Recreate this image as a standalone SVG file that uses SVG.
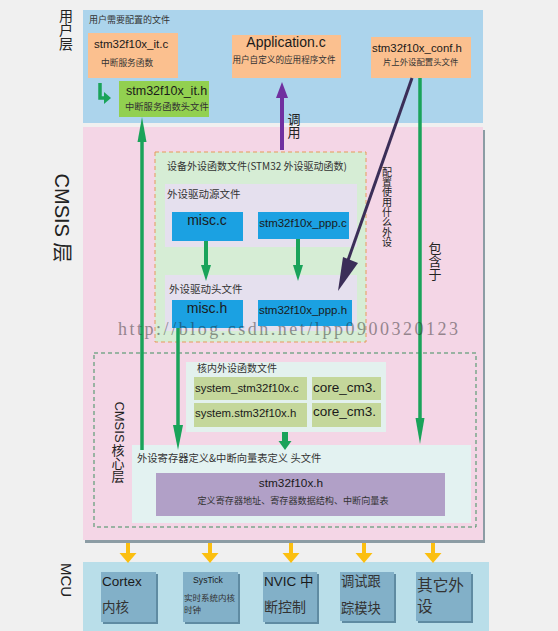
<svg xmlns="http://www.w3.org/2000/svg" width="558" height="631" viewBox="0 0 558 631">
<style>
text{font-family:"Liberation Sans","Noto Sans CJK SC",sans-serif;fill:#222}
.cn{font-family:"Noto Sans CJK SC","Liberation Sans",sans-serif;fill:#333}
.lat{font-family:"Liberation Sans","Noto Sans CJK SC",sans-serif;fill:#1a1a1a}
.vt{font-family:"Noto Sans CJK SC","Liberation Sans",sans-serif;fill:#222;writing-mode:vertical-rl;text-orientation:upright}
.peach{fill:#fbc08f}
.blue{fill:#1ba1e2}
.olive{fill:#c4d79b}
.lav{fill:#e5e0ee}
.mcub{fill:#82b0c8}
.mcus{fill:#5f8ba2}
.g{stroke:#1aa35a;fill:none}
.gf{fill:#1aa35a}
.y{stroke:#fbbf10;stroke-width:4;fill:none}
.yf{fill:#fbbf10}
</style>
<rect width="558" height="631" fill="#f0f0f0"/>

<g id="user-layer">
<rect x="83" y="10" width="400" height="113" fill="#acd4ec"/>
<text class="vt" x="66" y="9" font-size="14">用户层</text>
<text class="cn" x="89" y="23" font-size="9">用户需要配置的文件</text>
</g>

<g id="it-c">
<rect class="peach" x="88" y="33" width="90" height="45"/>
<text class="lat" x="94" y="48" font-size="11.5">stm32f10x_it.c</text>
<text class="cn" x="101" y="66" font-size="8.7">中断服务函数</text>
</g>

<g id="application-c">
<rect class="peach" x="232" y="35" width="109" height="43"/>
<text class="lat" x="286" y="47" font-size="14" text-anchor="middle">Application.c</text>
<text class="cn" x="284" y="63" font-size="8.6" text-anchor="middle">用户自定义的应用程序文件</text>
</g>

<g id="conf-h">
<rect class="peach" x="371" y="37" width="100" height="41"/>
<text class="lat" x="372" y="52" font-size="11.4">stm32f10x_conf.h</text>
<text class="cn" x="383" y="65" font-size="8.4">片上外设配置头文件</text>
</g>

<g id="it-h">
<rect x="119" y="81" width="90" height="36" fill="#92d050"/>
<text class="lat" x="126" y="95" font-size="12.5">stm32f10x_it.h</text>
<text class="cn" x="125" y="110" font-size="9.3">中断服务函数头文件</text>
</g>

<g id="cmsis-layer">
<rect x="85" y="130" width="400" height="413" fill="#8c9ca4"/>
<rect x="83" y="127" width="400" height="413" fill="#f4d6e6"/>
<text x="60" y="218" font-size="20" text-anchor="middle" transform="rotate(90 60 218)" dominant-baseline="middle">CMSIS 层</text>
</g>

<g id="device-files">
<rect x="155" y="152" width="211" height="190" fill="#d6edd5" stroke="#e69a5a" stroke-width="1" stroke-dasharray="4 3"/>
<text class="cn" x="167" y="170" font-size="10">设备外设函数文件(STM32 外设驱动函数)</text>
</g>

<g id="driver-src">
<rect class="lav" x="165" y="184" width="192" height="63"/>
<text class="cn" x="167" y="198" font-size="10.5">外设驱动源文件</text>
</g>

<g id="misc-c">
<rect class="blue" x="172" y="212" width="71" height="29"/>
<text class="lat" x="207" y="225" font-size="14" text-anchor="middle">misc.c</text>
</g>

<g id="ppp-c">
<rect class="blue" x="258" y="212" width="91" height="27"/>
<text class="lat" x="303" y="227" font-size="11.5" text-anchor="middle">stm32f10x_ppp.c</text>
</g>

<g id="driver-hdr">
<rect class="lav" x="165" y="275" width="192" height="56"/>
<text class="cn" x="169" y="293" font-size="10.5">外设驱动头文件</text>
</g>

<g id="misc-h">
<rect class="blue" x="172" y="300" width="71" height="28"/>
<text class="lat" x="207" y="313" font-size="14" text-anchor="middle">misc.h</text>
</g>

<g id="ppp-h">
<rect class="blue" x="258" y="300" width="94" height="26"/>
<text class="lat" x="303" y="314" font-size="11.5" text-anchor="middle">stm32f10x_ppp.h</text>
</g>

<g id="cmsis-core">
<rect x="94" y="353" width="382" height="174" fill="none" stroke="#3f8f5f" stroke-width="1" stroke-dasharray="4 3"/>
<text x="118" y="422" font-size="13" text-anchor="middle" dominant-baseline="middle" transform="rotate(90 118 422)">CMSIS</text>
<text class="vt" x="118" y="444" font-size="13">核心层</text>
</g>

<g id="core-periph">
<rect x="186" y="362" width="200" height="70" fill="#e3f1ee"/>
<text class="cn" x="197" y="372" font-size="10">核内外设函数文件</text>
<rect class="olive" x="194" y="377" width="113" height="23"/>
<text class="lat" x="195" y="392" font-size="11.4">system_stm32f10x.c</text>
<rect class="olive" x="312" y="377" width="69" height="23"/>
<text class="lat" x="313" y="392" font-size="13.5">core_cm3.</text>
<rect class="olive" x="194" y="403" width="113" height="24"/>
<text class="lat" x="195" y="417" font-size="11.4">system.stm32f10x.h</text>
<rect class="olive" x="312" y="403" width="69" height="24"/>
<text class="lat" x="313" y="416" font-size="13.5">core_cm3.</text>
</g>

<g id="stm32f10x-h">
<rect x="132" y="445" width="339" height="78" fill="#e3f2f1"/>
<text class="cn" x="137" y="462" font-size="10.3">外设寄存器定义&amp;中断向量表定义 头文件</text>
<rect x="156" y="473" width="289" height="43" fill="#b1a0c7"/>
<text class="lat" x="291" y="487" font-size="11.8" text-anchor="middle">stm32f10x.h</text>
<text class="cn" x="293" y="504" font-size="9.1" text-anchor="middle">定义寄存器地址、寄存器数据结构、中断向量表</text>
</g>

<g id="mcu">
<rect x="83" y="562" width="406" height="69" fill="#b9dee9"/>
<text x="65" y="580" font-size="15" text-anchor="middle" dominant-baseline="middle" transform="rotate(90 65 580)">MCU</text>
</g>

<g id="cortex">
<rect class="mcus" x="103" y="574" width="55" height="50"/>
<rect class="mcub" x="101" y="572" width="55" height="50"/>
<text class="lat" x="102" y="586" font-size="13.5">Cortex</text>
<text class="cn" x="102" y="612" font-size="13.5" fill="#222">内核</text>
</g>

<g id="systick">
<rect class="mcus" x="185" y="574" width="55" height="50"/>
<rect class="mcub" x="183" y="572" width="55" height="50"/>
<text class="lat" x="208" y="583" font-size="8.6" text-anchor="middle">SysTick</text>
<text class="cn" x="184" y="601" font-size="8.5" fill="#222">实时系统内核</text>
<text class="cn" x="184" y="613" font-size="8.5" fill="#222">时钟</text>
</g>

<g id="nvic">
<rect class="mcus" x="265" y="574" width="54" height="50"/>
<rect class="mcub" x="263" y="572" width="54" height="50"/>
<text class="lat" x="264" y="586" font-size="13.5">NVIC 中</text>
<text class="cn" x="264" y="612" font-size="14" fill="#222">断控制</text>
</g>

<g id="debug">
<rect class="mcus" x="342" y="574" width="54" height="49"/>
<rect class="mcub" x="340" y="572" width="54" height="49"/>
<text class="cn" x="341" y="586" font-size="13.3" fill="#222">调试跟</text>
<text class="cn" x="341" y="613" font-size="13.3" fill="#222">踪模块</text>
</g>

<g id="other">
<rect class="mcus" x="418" y="574" width="55" height="49"/>
<rect class="mcub" x="416" y="572" width="55" height="49"/>
<text class="cn" x="417" y="591" font-size="15.7" fill="#222">其它外</text>
<text class="cn" x="417" y="612" font-size="15.7" fill="#222">设</text>
</g>

<g id="connectors">
<path class="g" d="M100 83 V98 H105" stroke-width="3.5"/>
<polygon class="gf" points="104,92 111,98 104,104"/>
<line x1="282" y1="150" x2="282" y2="96" stroke="#7030a0" stroke-width="4"/>
<polygon fill="#7030a0" points="282,82 288,98 276,98"/>
<text class="vt" x="294" y="113" font-size="13">调用</text>
<line x1="412" y1="78" x2="346" y2="266" stroke="#3b2e58" stroke-width="3"/>
<polygon fill="#3b2e58" points="338,291 343,257 358,263"/>
<text class="vt" x="387" y="167" font-size="10">配置使用什么外设</text>
<line class="g" x1="420" y1="78" x2="420" y2="424" stroke-width="3.5"/>
<polygon class="gf" points="420,444 415.5,418 424.5,418"/>
<text class="vt" x="435" y="242" font-size="13">包含于</text>
<line class="g" x1="142" y1="450" x2="142" y2="135" stroke-width="3.5"/>
<polygon class="gf" points="142,117 146.5,142 137.5,142"/>
<line class="g" x1="178" y1="328" x2="178" y2="430" stroke-width="3.5"/>
<polygon class="gf" points="178,450 173,425 183,425"/>
<line class="g" x1="206" y1="241" x2="206" y2="268" stroke-width="4"/>
<polygon class="gf" points="206,281 201,265 211,265"/>
<line class="g" x1="298" y1="239" x2="298" y2="268" stroke-width="4"/>
<polygon class="gf" points="298,281 293,265 303,265"/>
<rect class="gf" x="282" y="432" width="6" height="10"/>
<polygon class="gf" points="285,450 278.5,441 291.5,441"/>
<line class="y" x1="128" y1="543" x2="128" y2="554"/><polygon class="yf" points="128,563 119.5,553 136.5,553"/>
<line class="y" x1="210" y1="543" x2="210" y2="554"/><polygon class="yf" points="210,563 201.5,553 218.5,553"/>
<line class="y" x1="291" y1="543" x2="291" y2="554"/><polygon class="yf" points="291,563 282.5,553 299.5,553"/>
<line class="y" x1="364" y1="543" x2="364" y2="554"/><polygon class="yf" points="364,563 355.5,553 372.5,553"/>
<line class="y" x1="433" y1="543" x2="433" y2="554"/><polygon class="yf" points="433,563 424.5,553 441.5,553"/>
</g>

<text x="118" y="335" font-size="18" textLength="340" fill="#b8b8b8" opacity="0.45" style="font-family:'Liberation Serif',serif">http://blog.csdn.net/lpp0900320123</text>
</svg>
